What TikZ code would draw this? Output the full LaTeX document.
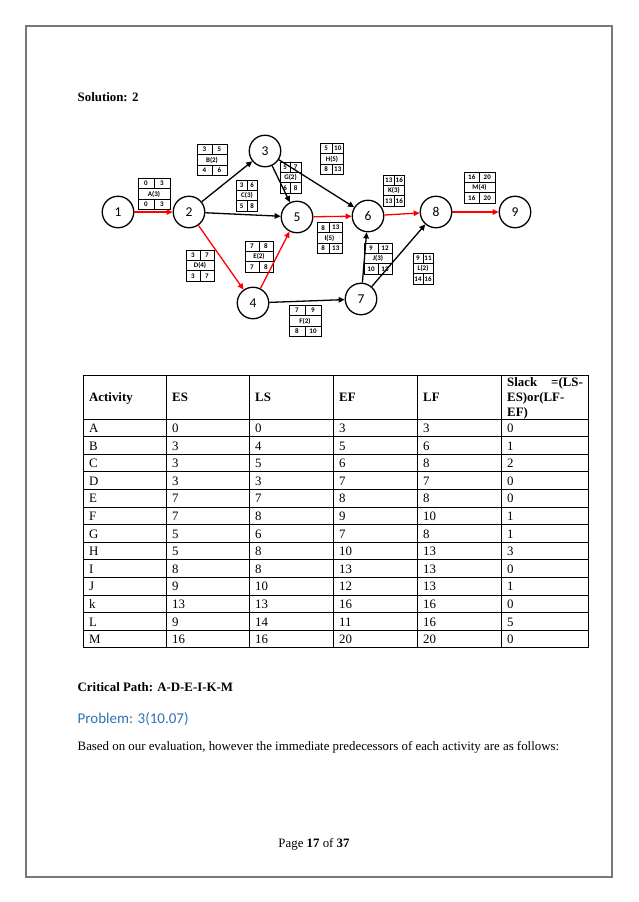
\documentclass[tikz,border=0pt]{standalone}
\usepackage{fontspec}
\setmainfont{Liberation Serif}
\newfontfamily\calfont{Carlito}
\usetikzlibrary{arrows.meta,calc}
\definecolor{critred}{RGB}{255,0,0}
\definecolor{headblue}{RGB}{46,116,181}
\definecolor{framegray}{RGB}{120,120,120}
\tikzset{
  evt/.style={circle, draw, line width=1.3pt, minimum size=31.5pt, inner sep=0pt, fill=white,
    font=\calfont\fontsize{13.5}{15}\selectfont},
  actb/.style={draw, line width=0.9pt, minimum height=31pt, inner sep=0pt},
  cell/.style={inner sep=0pt, font=\calfont\bfseries\fontsize{7}{7.5}\selectfont},
  arr/.style={line width=1.3pt, -{Triangle[length=6pt,width=5.5pt]}},
  crit/.style={arr, draw=critred, -{Triangle[length=6pt,width=5.5pt,fill=critred]}},
  tline/.style={line width=0.7pt},
  ttext/.style={anchor=base west, inner sep=0pt, font=\fontsize{12.86}{14.8}\selectfont},
  thead/.style={anchor=base west, inner sep=0pt, font=\bfseries\fontsize{12.86}{14.8}\selectfont},
}
\newcommand\actbox[9]{%
  \node[actb, minimum width=#4pt] (#1) at (#2,#3) {};
  \draw[line width=0.9pt] ([yshift=5.17pt]#1.west) -- ([yshift=5.17pt]#1.east)
    ([yshift=-5.17pt]#1.west) -- ([yshift=-5.17pt]#1.east)
    (#1.north) -- ([yshift=5.17pt]#1.center)
    (#1.south) -- ([yshift=-5.17pt]#1.center);
  \node[cell] (#1-es) at ([xshift={-#4pt/4},yshift=10.33pt]#1.center) {#5};
  \node[cell] (#1-ef) at ([xshift={#4pt/4},yshift=10.33pt]#1.center) {#6};
  \node[cell] (#1-lb) at (#1.center) {#7};
  \node[cell] (#1-ls) at ([xshift={-#4pt/4},yshift=-10.33pt]#1.center) {#8};
  \node[cell] (#1-lf) at ([xshift={#4pt/4},yshift=-10.33pt]#1.center) {#9};
}
\begin{document}
\begin{tikzpicture}[x=1pt,y=-1pt]
\useasboundingbox[fill=white] (0,0) rectangle (638,902);
\draw[framegray, line width=1.5pt] (26,26) rectangle (612,877);

\node[thead] (sol) at (77.5,101.5) {Solution: 2};

% activity boxes
\actbox{ba}{154}{194}{32}{0}{3}{A(3)}{0}{3}
\actbox{bb}{212}{160}{30}{3}{5}{B(2)}{4}{6}
\actbox{bc}{247}{195.5}{21}{3}{6}{C(3)}{5}{8}
\actbox{bg}{290.5}{177.5}{21}{5}{7}{G(2)}{6}{8}
\actbox{bh}{332}{159}{23}{5}{10}{H(5)}{8}{13}
\actbox{bk}{394}{190.5}{21}{13}{16}{K(3)}{13}{16}
\actbox{bm}{479.5}{187.5}{31}{16}{20}{M(4)}{16}{20}
\actbox{bi}{329.5}{238}{25}{8}{13}{I(5)}{8}{13}
\actbox{bj}{378}{258.5}{28}{9}{12}{J(3)}{10}{13}
\actbox{bl}{423}{268.5}{20}{9}{11}{L(2)}{14}{16}
\actbox{bd}{200}{265.5}{28}{3}{7}{D(4)}{3}{7}
\actbox{be}{259}{256.5}{28}{7}{8}{E(2)}{7}{8}
\actbox{bf}{305}{321}{32}{7}{9}{F(2)}{8}{10}

% events
\node[evt] (n1) at (118,212) {1};
\node[evt] (n2) at (189,212) {2};
\node[evt] (n3) at (265,151) {3};
\node[evt] (n4) at (253,303) {4};
\node[evt] (n5) at (297,217) {5};
\node[evt] (n6) at (368,216) {6};
\node[evt] (n7) at (361,299) {7};
\node[evt] (n8) at (436,212) {8};
\node[evt] (n9) at (515,212) {9};

% connectors
\draw[crit] (n1) -- (n2);
\draw[crit] (n2) -- (n4);
\draw[crit] (n4) -- (n5);
\draw[crit] (n5) -- (n6);
\draw[crit] (n6) -- (n8);
\draw[crit] (n8) -- (n9);
\draw[arr] (n2) -- (n3);
\draw[arr] (n2) -- (n5);
\draw[arr] (n3) -- (n5);
\draw[arr] (n3) -- (n6);
\draw[arr] (n4) -- (n7);
\draw[arr] (n7) -- (n6);
\draw[arr] (n7) -- (n8);

% table grid
\foreach \x in {83,166,249,333,417,501,588} \draw[tline] (\x,375) -- (\x,647.8);
\draw[tline] (83,375) -- (588,375);
\foreach \i in {0,...,13} \draw[tline] (83,419+17.6*\i) -- (588,419+17.6*\i);

% header
\node[thead] (h1) at (89,401.5) {Activity};
\node[thead] (h2) at (172,401.5) {ES};
\node[thead] (h3) at (255,401.5) {LS};
\node[thead] (h4) at (339,401.5) {EF};
\node[thead] (h5) at (423,401.5) {LF};
\node[thead] (h6a) at (507,386.5) {Slack};
\node[thead, anchor=base east] (h6b) at (583,386.5) {=(LS-};
\node[thead] (h6c) at (507,401.5) {ES)or(LF-};
\node[thead] (h6d) at (507,416) {EF)};

% rows
\foreach \a/\es/\ls/\ef/\lf/\sl [count=\r from 0] in {
  A/0/0/3/3/0, B/3/4/5/6/1, C/3/5/6/8/2, D/3/3/7/7/0, E/7/7/8/8/0,
  F/7/8/9/10/1, G/5/6/7/8/1, H/5/8/10/13/3, I/8/8/13/13/0, J/9/10/12/13/1,
  k/13/13/16/16/0, L/9/14/11/16/5, M/16/16/20/20/0} {
  \node[ttext] (r\r a) at (89,432.5+17.6*\r) {\a};
  \node[ttext] (r\r b) at (172,432.5+17.6*\r) {\es};
  \node[ttext] (r\r c) at (255,432.5+17.6*\r) {\ls};
  \node[ttext] (r\r d) at (339,432.5+17.6*\r) {\ef};
  \node[ttext] (r\r e) at (423,432.5+17.6*\r) {\lf};
  \node[ttext] (r\r f) at (507,432.5+17.6*\r) {\sl};
}

\node[thead] (crit) at (77.5,691.5) {Critical Path: A-D-E-I-K-M};
\node[anchor=base west, inner sep=0pt, text=headblue, font=\calfont\fontsize{15}{18}\selectfont] (prob) at (77.5,723) {Problem: 3(10.07)};
\node[ttext] (based) at (77.5,750) {Based on our evaluation, however the immediate predecessors of each activity are as follows:};
\node[anchor=base, inner sep=0pt, font=\fontsize{12.86}{14.8}\selectfont] (page) at (314,847) {Page \textbf{17} of \textbf{37}};
\end{tikzpicture}
\end{document}
